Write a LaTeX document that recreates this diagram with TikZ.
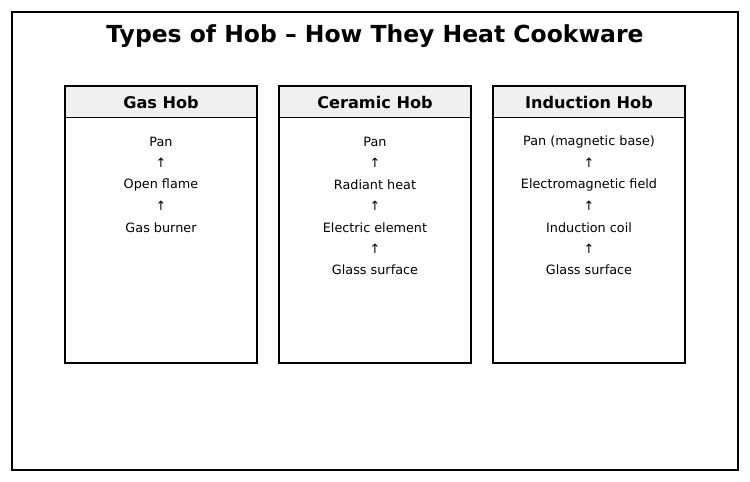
\documentclass[tikz,border=0pt]{standalone}
\usepackage{fontspec}
\setmainfont{DejaVu Sans}

\tikzset{
  hobhead/.style={draw, fill=gray!12, line width=1pt, minimum width=144pt, minimum height=23.25pt, inner sep=0pt, font=\bfseries\fontsize{12.1}{14}\selectfont},
  hobbody/.style={draw, line width=1pt, minimum width=144pt, minimum height=207.75pt, inner sep=0pt},
  item/.style={inner sep=0pt, font=\fontsize{9.6}{11}\selectfont}
}

\begin{document}
\begin{tikzpicture}[x=0.75pt, y=-0.75pt]
    \useasboundingbox (0,0) rectangle (750,482);

    % 外枠とタイトル
    \node[draw, line width=1.5pt, minimum width=544.5pt, minimum height=343.5pt, inner sep=0pt] (frame) at (375, 241) {};
    \node[font=\bfseries\fontsize{17.6}{20}\selectfont] (title) at (375, 36) {Types of Hob – How They Heat Cookware};

    % 枠
    \node[hobbody] (gasbody) at (161, 224.5) {};
    \node[hobbody] (cerbody) at (375, 224.5) {};
    \node[hobbody] (indbody) at (589, 224.5) {};

    % 見出し
    \node[hobhead] (gashead) at (161, 102) {Gas Hob};
    \node[hobhead] (cerhead) at (375, 102) {Ceramic Hob};
    \node[hobhead] (indhead) at (589, 102) {Induction Hob};

    % ガス
    \node[item] (gas1) at (161, 142) {Pan};
    \node[item] (gasa1) at (161, 163) {↑};
    \node[item] (gas2) at (161, 185) {Open flame};
    \node[item] (gasa2) at (161, 206) {↑};
    \node[item] (gas3) at (161, 228) {Gas burner};

    % セラミック
    \node[item] (cer1) at (375, 142) {Pan};
    \node[item] (cera1) at (375, 163) {↑};
    \node[item] (cer2) at (375, 185) {Radiant heat};
    \node[item] (cera2) at (375, 206) {↑};
    \node[item] (cer3) at (375, 228) {Electric element};
    \node[item] (cera3) at (375, 249) {↑};
    \node[item] (cer4) at (375, 270) {Glass surface};

    % IH
    \node[item] (ind1) at (589, 142) {Pan (magnetic base)};
    \node[item] (inda1) at (589, 163) {↑};
    \node[item] (ind2) at (589, 185) {Electromagnetic field};
    \node[item] (inda2) at (589, 206) {↑};
    \node[item] (ind3) at (589, 228) {Induction coil};
    \node[item] (inda3) at (589, 249) {↑};
    \node[item] (ind4) at (589, 270) {Glass surface};
  \end{tikzpicture}
\end{document}
